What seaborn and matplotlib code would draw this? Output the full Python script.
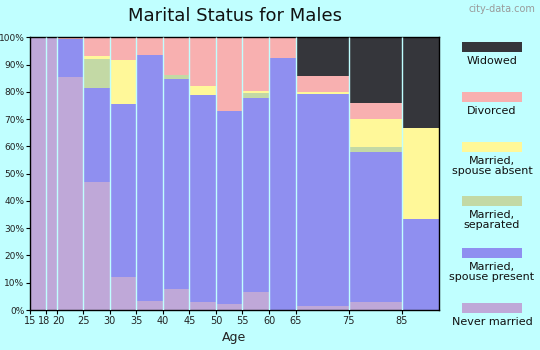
import matplotlib
matplotlib.use("Agg")
import matplotlib.pyplot as plt
import matplotlib.transforms as mtransforms
from matplotlib.patches import Rectangle
import seaborn as sns
import pandas as pd
import numpy as np

# ---- data ----
age_edges = [15, 18, 20, 25, 30, 35, 40, 45, 50, 55, 60, 65, 75, 85, 92]
tick_ages = [15, 18, 20, 25, 30, 35, 40, 45, 50, 55, 60, 65, 75, 85]
statuses = ["Widowed", "Divorced", "Married, spouse absent",
            "Married, separated", "Married, spouse present", "Never married"]
legend_labels = ["Widowed", "Divorced", "Married,\nspouse absent",
                 "Married,\nseparated", "Married,\nspouse present", "Never married"]
never_married = [100, 100, 85.5, 46.9, 12.1, 3.3, 7.7, 2.9, 2.2, 6.6, 0.0, 1.5, 2.9, 0.0]
spouse_present = [0, 0, 13.9, 34.5, 63.5, 90.2, 77.0, 76.0, 70.8, 71.2, 92.4, 77.7, 55.0, 33.4]
separated = [0, 0, 0, 10.7, 0, 0, 1.5, 0, 0, 1.8, 0, 0, 1.9, 0]
spouse_absent = [0, 0, 0, 1.1, 16.1, 0, 0, 3.3, 0, 0.7, 0, 0.7, 10.2, 33.3]
divorced = [0, 0, 0.6, 6.8, 8.3, 6.5, 13.8, 17.8, 27.0, 19.7, 7.6, 5.9, 5.9, 0]
widowed = [0, 0, 0, 0, 0, 0, 0, 0, 0, 0, 0, 14.2, 24.1, 33.3]

colors = {"Widowed": "#35363b", "Divorced": "#f8b0b0",
          "Married, spouse absent": "#fff899", "Married, separated": "#c3d9a5",
          "Married, spouse present": "#8f8ff0", "Never married": "#bfa8d8"}
bg = "#c0ffff"

series = {"Widowed": widowed, "Divorced": divorced,
          "Married, spouse absent": spouse_absent,
          "Married, separated": separated,
          "Married, spouse present": spouse_present,
          "Never married": never_married}

rows = []
for s in statuses:
    for i, v in enumerate(series[s]):
        mid = (age_edges[i] + age_edges[i + 1]) / 2
        rows.append({"age": mid, "pct": v, "status": s})
df = pd.DataFrame(rows)

sns.set_theme(style="white")
plt.rcParams["font.family"] = ["DejaVu Sans"]

fig = plt.figure(figsize=(5.4, 3.5), dpi=100, facecolor=bg)
ax = fig.add_axes([30 / 540, 1 - 310 / 350, 409 / 540, (310 - 37.3) / 350])
ax.set_facecolor(bg)

sns.histplot(data=df, x="age", weights="pct", hue="status", hue_order=statuses,
             bins=age_edges, multiple="stack", palette=colors, alpha=1,
             linewidth=0, element="bars", legend=False, ax=ax)

ax.vlines(age_edges[1:-1], 0, 100, colors=bg, linewidth=1.0, zorder=5)

ax.set_xlim(age_edges[0], age_edges[-1])
ax.set_ylim(0, 100)
ax.set_xticks(tick_ages)
ax.set_xticklabels([str(t) for t in tick_ages], fontsize=7, color="#222222")
ax.set_yticks(np.arange(0, 101, 10))
ax.set_yticklabels([f"{t}%" for t in range(0, 101, 10)], fontsize=6.5, color="#222222")
ax.tick_params(axis="both", length=3, width=0.8, color="black", pad=1, direction="out",
               bottom=True, left=True)
# nudge the crowded 18 / 20 labels apart slightly
for lbl in ax.get_xticklabels():
    if lbl.get_text() == "18":
        lbl.set_transform(lbl.get_transform() + mtransforms.ScaledTranslation(-2 / 100, 0, fig.dpi_scale_trans))
    elif lbl.get_text() == "20":
        lbl.set_transform(lbl.get_transform() + mtransforms.ScaledTranslation(2 / 100, 0, fig.dpi_scale_trans))
for sp in ax.spines.values():
    sp.set_color("black")
    sp.set_linewidth(1.0)
ax.set_xlabel("Age", fontsize=9, color="#222222", labelpad=4)
ax.set_ylabel("")

fig.text(235 / 540, 1 - 16 / 350, "Marital Status for Males", ha="center", va="center",
         fontsize=13, color="#111111")
fig.text(535 / 540, 1 - 9 / 350, "city-data.com", ha="right", va="center",
         fontsize=7, color="#9a9a9a")

# legend: swatch above label
sw_tops = [42, 92, 142, 196, 248, 303]
for s, lab, top in zip(statuses, legend_labels, sw_tops):
    fig.add_artist(Rectangle((462 / 540, 1 - (top + 10) / 350), 60 / 540, 10 / 350,
                             transform=fig.transFigure, facecolor=colors[s],
                             edgecolor="none"))
    fig.text(492 / 540, 1 - (top + 14) / 350, lab, ha="center", va="top",
             fontsize=8, color="#111111", linespacing=1.05)

fig.savefig("out.png", dpi=100, facecolor=bg)
